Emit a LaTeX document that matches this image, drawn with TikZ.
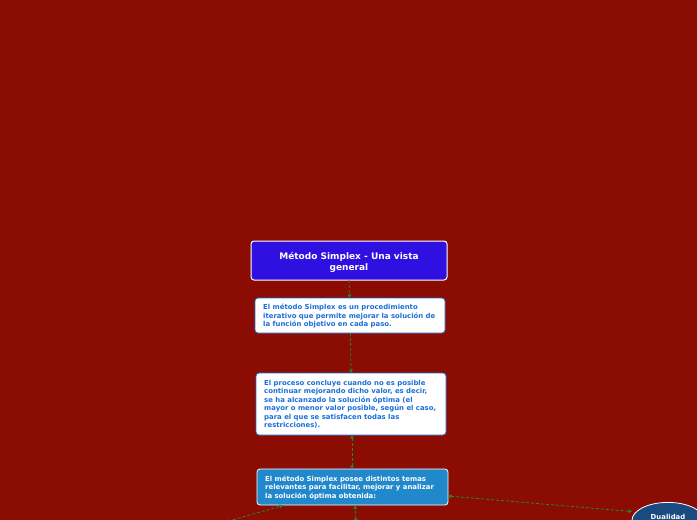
\documentclass[tikz,border=0pt]{standalone}
\usepackage{fontspec}
\setmainfont{DejaVu Sans}
\usetikzlibrary{shapes.geometric,arrows.meta}
\definecolor{bg}{HTML}{8A0C02}
\definecolor{titlefill}{HTML}{3010E0}
\definecolor{boxblue}{HTML}{2288CC}
\definecolor{txtblue}{HTML}{1A6FD8}
\definecolor{dualfill}{HTML}{1A4A80}
\definecolor{conn}{HTML}{1E8A3A}
\tikzset{
  x=1pt,y=-1pt,
  titlebox/.style={draw=white,line width=1pt,fill=titlefill,rounded corners=3pt},
  titletxt/.style={text=white,font=\bfseries\fontsize{9}{11}\selectfont,align=center,inner sep=0pt},
  boxtxt/.style={rounded corners=3pt,font=\bfseries\fontsize{6.9}{8.5}\selectfont,align=left,inner sep=0pt},
  whitebox/.style={boxtxt,draw=txtblue,line width=0.8pt,fill=white,text=txtblue},
  bluebox/.style={boxtxt,draw=white,line width=0.8pt,fill=boxblue,text=white},
  dualbox/.style={ellipse,draw=white,line width=0.8pt,fill=dualfill,minimum width=72pt,minimum height=36pt,inner sep=0pt},
  dualtxt/.style={text=white,font=\bfseries\fontsize{6.9}{8}\selectfont},
  link/.style={draw=conn,line width=0.8pt,dash pattern=on 3pt off 2pt,{Triangle[length=3.5pt,width=3.5pt]}-{Triangle[length=3.5pt,width=3.5pt]}},
  linkdown/.style={draw=conn,line width=0.8pt,dash pattern=on 3pt off 2pt,-{Triangle[length=3.5pt,width=3.5pt]}},
}
\begin{document}
\begin{tikzpicture}
\useasboundingbox (0,0) rectangle (697,520);
\fill[bg] (0,0) rectangle (697,520);
\path[titlebox] (251,241) rectangle (447,280);
\node[titletxt] (title) at (349,262) {Método Simplex - Una vista\\general};
\coordinate (ts) at (349,280);
\path[whitebox] (255,298) rectangle (445,333);
\node[boxtxt,anchor=north west,text=txtblue] (b2t) at (263,304) {El método Simplex es un procedimiento\\iterativo que permite mejorar la solución de\\la función objetivo en cada paso.};
\coordinate (b2n) at (349.5,298);
\coordinate (b2s) at (350.5,333);
\path[whitebox] (256,373) rectangle (446,435);
\node[boxtxt,anchor=north west,text=txtblue] (b3t) at (264,380) {El proceso concluye cuando no es posible\\continuar mejorando dicho valor, es decir,\\se ha alcanzado la solución óptima (el\\mayor o menor valor posible, según el caso,\\para el que se satisfacen todas las\\restricciones).};
\coordinate (b3n) at (351,373);
\coordinate (b3s) at (352,435);
\path[bluebox] (257,469) rectangle (448,505);
\node[boxtxt,anchor=north west,text=white] (b4t) at (265,475.5) {El método Simplex posee distintos temas\\relevantes para facilitar, mejorar y analizar\\la solución óptima obtenida:};
\coordinate (b4n) at (352,469);
\coordinate (b4e) at (448,496);
\coordinate (b4sa) at (283,505.5);
\coordinate (b4sb) at (355,505.5);
\node[dualbox,anchor=north] (dual) at (668,502) {};
\node[dualtxt] (dualt) at (668,516.5) {Dualidad};
\coordinate (dw) at (632,511.5);
\coordinate (offa) at (225,522);
\coordinate (offb) at (356,522);
\draw[linkdown] (ts) -- (b2n);
\draw[linkdown] (b2s) -- (b3n);
\draw[link] (b4n) -- (b3s);
\draw[link] (offa) -- (b4sa);
\draw[link] (offb) -- (b4sb);
\draw[link] (b4e) -- (dw);
\end{tikzpicture}
\end{document}
